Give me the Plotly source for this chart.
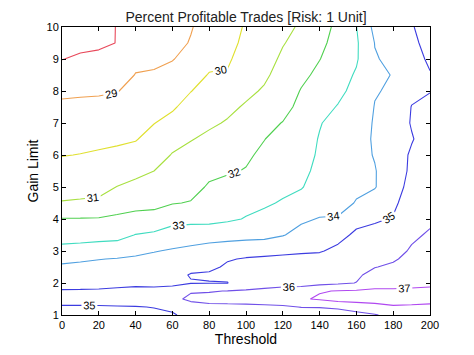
import numpy as np
import plotly.graph_objects as go

threshold = list(range(0, 201, 10))
gain = [1, 1.25, 1.5, 1.75, 2, 2.25, 2.5, 2.75, 3, 3.5, 4, 4.5, 5, 5.5, 6, 6.5, 7, 7.5, 8, 8.5, 9, 9.5, 10]

# percent profitable per threshold column (values from bottom gain=1 to top gain=10)
col_000 = [34.6, 34.9, 35.4, 35.05, 34.75, 34.45, 34.15, 33.76, 33.3, 32.6, 32.05, 31.05, 30.68, 30.33, 29.97, 29.7, 29.35, 29.15, 28.85, 28.4, 27.98, 27.7, 27.4]
col_010 = [34.65, 34.9, 35.35, 35.05, 34.8, 34.5, 34.25, 33.85, 33.4, 32.6, 32.05, 31.1, 30.7, 30.35, 30.02, 29.75, 29.45, 29.2, 28.87, 28.5, 28.12, 27.8, 27.5]
col_020 = [34.7, 34.92, 35.35, 35.07, 34.8, 34.55, 34.3, 33.97, 33.5, 32.65, 32.07, 31.15, 30.75, 30.45, 30.1, 29.8, 29.5, 29.22, 28.9, 28.55, 28.2, 27.85, 27.55]
col_030 = [34.75, 34.95, 35.35, 35.1, 34.85, 34.6, 34.35, 34.05, 33.55, 32.7, 32.25, 31.35, 31.02, 30.55, 30.2, 29.85, 29.6, 29.3, 28.97, 28.6, 28.3, 28.02, 28.05]
col_040 = [34.8, 34.97, 35.35, 35.12, 34.9, 34.65, 34.4, 34.12, 33.8, 33.03, 32.3, 31.7, 31.2, 30.8, 30.3, 29.95, 29.7, 29.45, 29.25, 29.03, 28.8, 28.6, 28.45]
col_050 = [34.85, 35.02, 35.35, 35.15, 34.85, 34.72, 34.5, 34.25, 33.95, 33.17, 32.35, 31.75, 31.4, 31.0, 30.6, 30.3, 29.98, 29.6, 29.35, 29.08, 28.85, 28.7, 28.55]
col_060 = [34.9, 35.2, 35.85, 35.25, 34.85, 34.75, 34.55, 34.35, 34.1, 33.4, 32.7, 31.95, 31.7, 31.4, 31.05, 30.7, 30.25, 29.9, 29.6, 29.3, 28.96, 28.85, 28.8]
col_070 = [35.3, 35.75, 36.12, 35.95, 34.95, 35.05, 34.8, 34.45, 34.2, 33.6, 32.7, 32.05, 31.7, 31.5, 31.3, 30.95, 30.6, 30.3, 29.98, 29.65, 29.3, 29.03, 28.97]
col_080 = [35.4, 35.8, 36.25, 35.95, 34.97, 35.1, 34.85, 34.55, 34.25, 33.75, 32.65, 32.35, 32.1, 31.8, 31.5, 31.2, 30.85, 30.6, 30.3, 30.05, 29.75, 29.45, 29.2]
col_090 = [35.45, 35.8, 36.3, 36.02, 34.98, 35.15, 35.1, 34.95, 34.45, 33.7, 32.85, 32.55, 32.3, 31.9, 31.65, 31.35, 31.08, 30.8, 30.4, 30.1, 29.85, 29.6, 29.4]
col_100 = [35.5, 35.8, 36.35, 36.05, 35.7, 35.45, 35.25, 35.05, 34.75, 33.65, 33.05, 32.75, 32.5, 32.05, 31.85, 31.6, 31.35, 31.1, 30.8, 30.65, 30.5, 30.3, 30.15]
col_110 = [35.5, 35.85, 36.4, 36.1, 35.8, 35.55, 35.35, 35.1, 34.8, 33.7, 33.3, 32.85, 32.6, 32.4, 32.2, 31.98, 31.75, 31.45, 31.1, 30.85, 30.65, 30.55, 30.45]
col_120 = [35.55, 35.9, 36.45, 36.15, 35.85, 35.6, 35.4, 35.15, 34.85, 33.95, 33.5, 33.1, 32.75, 32.6, 32.5, 32.35, 32.03, 31.7, 31.5, 31.35, 31.15, 30.95, 30.8]
col_130 = [35.6, 36.02, 36.9, 36.25, 35.8, 35.6, 35.4, 35.2, 34.9, 34.3, 33.85, 33.3, 32.95, 32.8, 32.7, 32.6, 32.5, 32.25, 32.05, 31.8, 31.5, 31.3, 31.1]
col_140 = [35.65, 36.03, 37.1, 36.95, 35.7, 35.55, 35.4, 35.2, 34.95, 34.5, 34.05, 33.6, 33.35, 33.2, 33.1, 33.05, 32.95, 32.7, 32.45, 32.2, 31.98, 31.8, 31.65]
col_150 = [35.7, 36.1, 37.4, 37.03, 35.85, 35.65, 35.5, 35.35, 35.15, 34.8, 34.07, 33.7, 33.55, 33.45, 33.4, 33.35, 33.3, 33.05, 32.8, 32.6, 32.4, 32.3, 32.2]
col_160 = [35.8, 36.3, 37.5, 37.1, 36.02, 35.85, 35.7, 35.55, 35.4, 35.12, 34.8, 34.05, 33.85, 33.75, 33.7, 33.65, 33.55, 33.4, 33.25, 33.1, 32.9, 32.88, 32.98]
col_170 = [35.95, 36.5, 37.6, 37.15, 36.6, 36.3, 35.97, 35.7, 35.5, 35.25, 34.9, 34.4, 33.95, 33.95, 34.05, 34.1, 34.08, 34.03, 33.95, 33.9, 33.95, 34.02, 34.25]
col_180 = [36.2, 36.85, 37.6, 37.15, 36.6, 36.4, 36.15, 35.9, 35.7, 35.4, 35.05, 34.85, 34.6, 34.55, 34.6, 34.6, 34.55, 34.4, 34.1, 34.02, 34.15, 34.4, 34.6]
col_190 = [36.25, 36.8, 37.5, 37.15, 36.75, 36.55, 36.4, 36.25, 36.1, 35.85, 35.6, 35.4, 35.3, 35.15, 35.1, 34.95, 35.05, 35.02, 34.85, 34.7, 34.8, 34.9, 34.95]
col_200 = [36.3, 36.75, 37.4, 37.15, 36.85, 36.7, 36.55, 36.4, 36.3, 36.1, 35.85, 35.7, 35.55, 35.45, 35.4, 35.35, 35.3, 35.15, 34.98, 34.97, 35.08, 35.15, 35.3]

columns = [col_000, col_010, col_020, col_030, col_040, col_050, col_060, col_070,
           col_080, col_090, col_100, col_110, col_120, col_130, col_140, col_150,
           col_160, col_170, col_180, col_190, col_200]
z = np.array(columns).T  # rows = gain, cols = threshold

levels = list(range(28, 38))
level_colors = ["#e8485a", "#f0a050", "#e0e030", "#a8e040", "#50d050",
                "#40dcc0", "#50a0e0", "#3c3ce0", "#7050e8", "#b048f0"]
colorscale = [[(lv - 28) / 9, c] for lv, c in zip(levels, level_colors)]

fig = go.Figure(go.Contour(
    x=threshold, y=gain, z=z,
    zmin=28, zmax=37, zauto=False,
    colorscale=colorscale,
    showscale=False,
    contours=dict(start=28, end=37, size=1, coloring="lines",
                  showlabels=True,
                  labelfont=dict(size=11, color="black", family="Liberation Sans")),
    line=dict(width=1.1, smoothing=0),
    hoverinfo="skip",
))

axis_common = dict(showline=True, linecolor="black", linewidth=1, mirror="ticks",
                   ticks="inside", ticklen=4, tickcolor="black", showgrid=False,
                   zeroline=False, automargin=False,
                   tickfont=dict(size=11, color="black"))

# the page body adds an 8 px offset, so the figure is sized to fit the window
fig.update_layout(
    template="none",
    width=466, height=347,
    margin=dict(l=54, r=44, t=19, b=40),
    paper_bgcolor="white", plot_bgcolor="white",
    font=dict(family="Liberation Sans, Arial, sans-serif", color="black"),
    title=dict(text="Percent Profitable Trades [Risk: 1 Unit]", x=0.5, xanchor="center",
               xref="paper", yref="container", y=0.974, yanchor="middle",
               pad=dict(t=0, b=0),
               font=dict(size=14, color="#222")),
    xaxis=dict(range=[0, 200], tickvals=list(range(0, 201, 20)),
               title=dict(text="Threshold", font=dict(size=14), standoff=2), **axis_common),
    yaxis=dict(range=[1, 10], tickvals=list(range(1, 11)),
               title=dict(text="Gain Limit", font=dict(size=14), standoff=4), **axis_common),
)

fig.write_html("out.html")
